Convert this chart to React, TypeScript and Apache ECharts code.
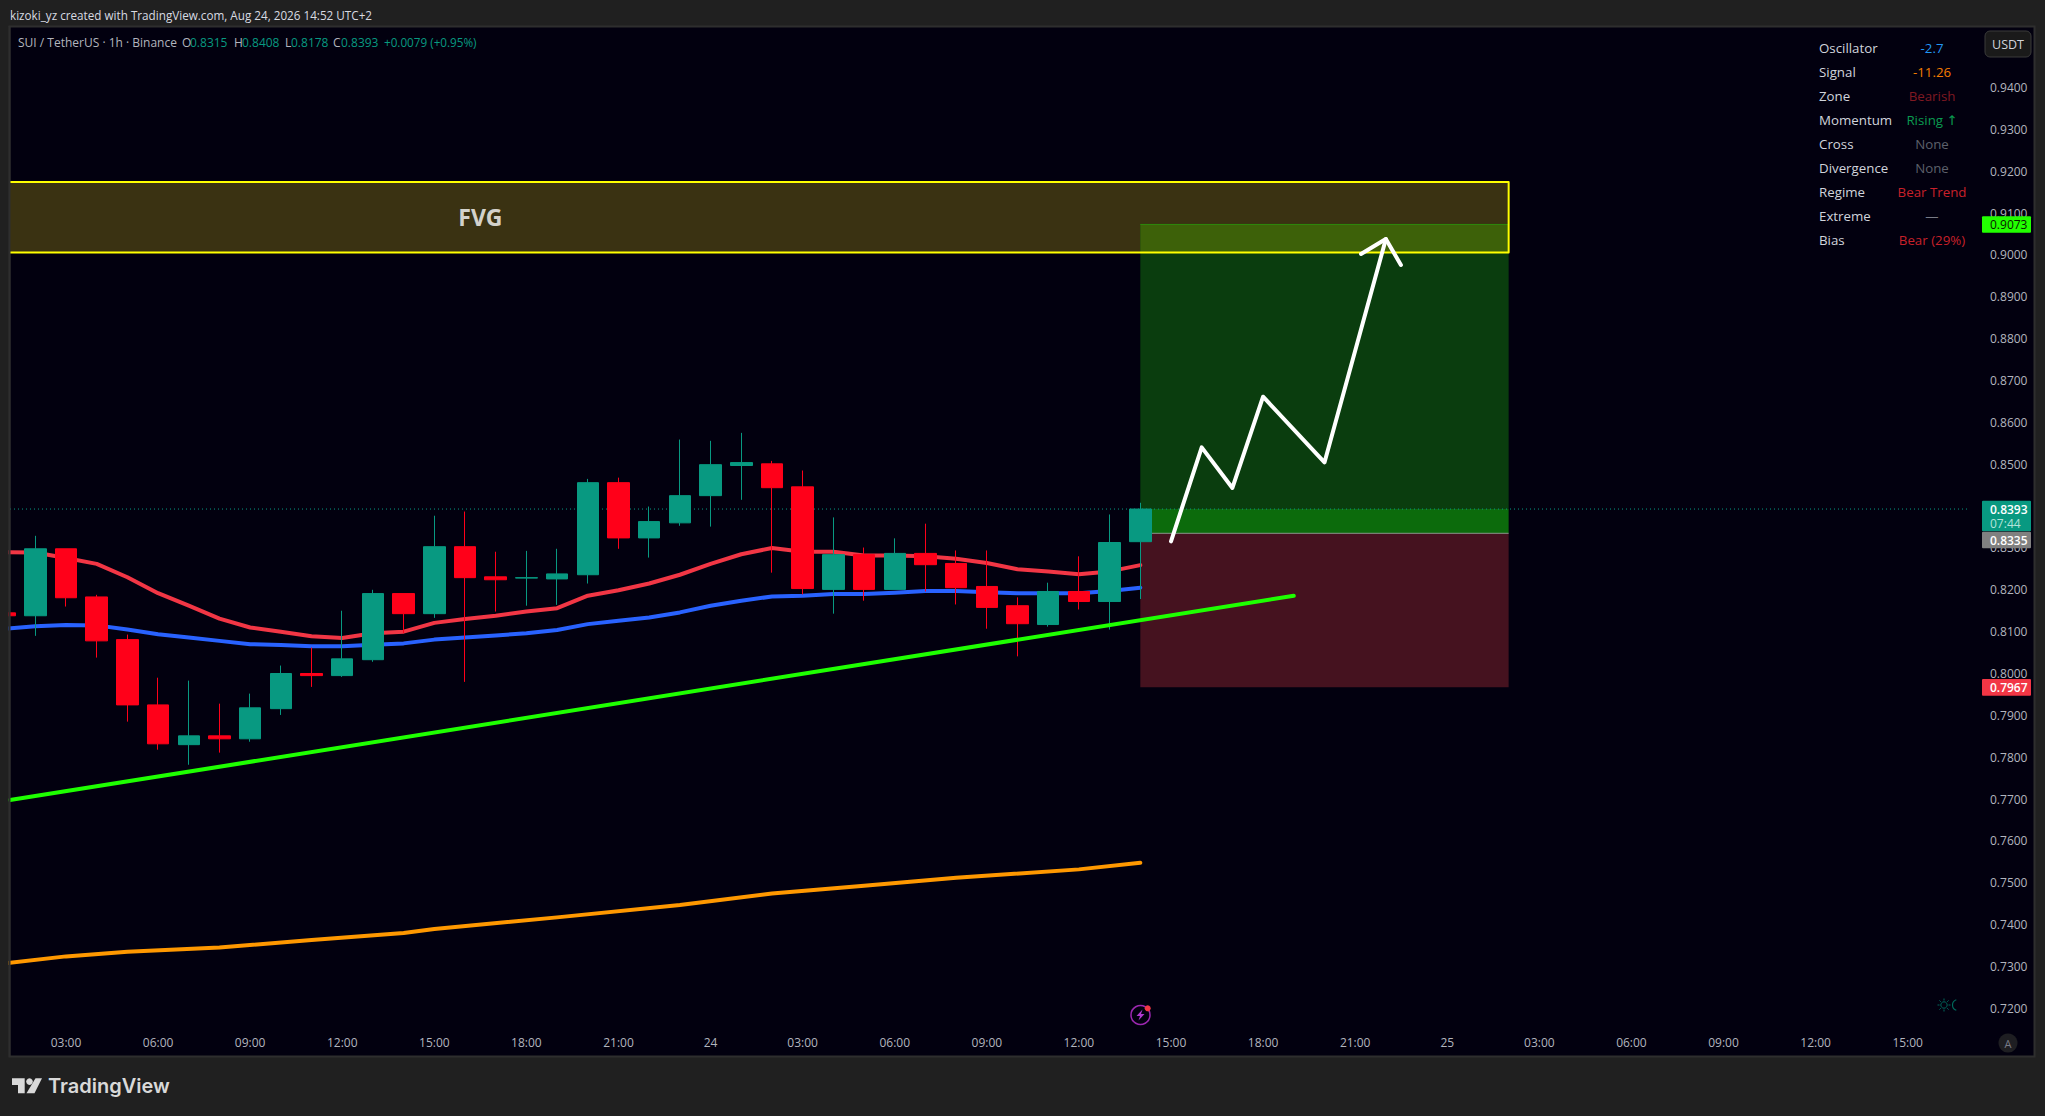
import React, { useEffect, useRef } from "react";
import * as echarts from "echarts";

const WIDTH = 2045;
const HEIGHT = 1116;

// Hours since 00:00 on the 23rd. Candle i sits at hour firstCandleHour + i.
const firstCandleHour = 1;
const opens = [0.8145,0.8138,0.8298,0.8183,0.8081,0.7925,0.7830,0.7851,0.7844,0.7916,0.8000,0.7995,0.8033,0.8191,0.8143,0.8303,0.8231,0.8228,0.8226,0.8236,0.8456,0.8324,0.8360,0.8425,0.8497,0.8501,0.8446,0.8201,0.8284,0.8201,0.8287,0.8263,0.8208,0.8162,0.8117,0.8196,0.8172,0.8315];
const closes = [0.8138,0.8298,0.8181,0.8078,0.7925,0.7832,0.7851,0.7844,0.7918,0.8000,0.7995,0.8035,0.8191,0.8143,0.8303,0.8229,0.8224,0.8229,0.8238,0.8456,0.8324,0.8363,0.8425,0.8499,0.8504,0.8444,0.8203,0.8284,0.8201,0.8287,0.8260,0.8205,0.8158,0.8119,0.8196,0.8172,0.8313,0.8393];
const lows = [0.8138,0.8090,0.8160,0.8038,0.7885,0.7818,0.7782,0.7811,0.7837,0.7901,0.7968,0.7992,0.8028,0.8097,0.8133,0.7980,0.8148,0.8162,0.8164,0.8215,0.8298,0.8277,0.8353,0.8351,0.8415,0.8241,0.8189,0.8143,0.8174,0.8201,0.8196,0.8165,0.8107,0.8041,0.8112,0.8153,0.8105,0.8178];
const highs = [0.8145,0.8329,0.8298,0.8188,0.8093,0.7990,0.7983,0.7928,0.7952,0.8019,0.8062,0.8150,0.8200,0.8191,0.8377,0.8387,0.8291,0.8293,0.8298,0.8465,0.8468,0.8399,0.8559,0.8556,0.8575,0.8508,0.8485,0.8373,0.8301,0.8323,0.8358,0.8294,0.8294,0.8182,0.8217,0.8280,0.8380,0.8408];
const redEma = [0.8290,0.8289,0.8276,0.8262,0.8230,0.8192,0.8162,0.8131,0.8110,0.8100,0.8089,0.8085,0.8096,0.8100,0.8121,0.8130,0.8138,0.8148,0.8156,0.8186,0.8199,0.8215,0.8236,0.8262,0.8285,0.8300,0.8291,0.8291,0.8282,0.8282,0.8280,0.8274,0.8264,0.8249,0.8244,0.8237,0.8244,0.8259];
const blueEma = [0.8107,0.8113,0.8116,0.8115,0.8105,0.8094,0.8086,0.8078,0.8070,0.8068,0.8065,0.8065,0.8069,0.8072,0.8081,0.8086,0.8091,0.8096,0.8104,0.8118,0.8126,0.8134,0.8146,0.8162,0.8174,0.8184,0.8186,0.8190,0.8190,0.8193,0.8197,0.8197,0.8194,0.8192,0.8192,0.8192,0.8197,0.8205];
const orangeHours = [1,3,5,8,11,14,15,19,23,26,29,32,36,38];
const orangeValues = [0.73074,0.73241,0.73353,0.73456,0.73631,0.73799,0.73894,0.74173,0.74468,0.74746,0.74930,0.75121,0.75320,0.75479];
const trendHours = [1.176,43];
const trendValues = [0.76977,0.81859];
const arrowHours = [39,40,41,42,44,46];
const arrowValues = [0.83157,0.85403,0.84433,0.86614,0.85044,0.90382];
const arrowHeadHours = [45.19,46,46.49];
const arrowHeadValues = [0.90024,0.90382,0.89761];

const xMin = 1.1758;
const xMax = 64.9;
const yMin = 0.71537;
const yMax = 0.95431;

const lastPrice = 0.8393;
const entryPrice = 0.8335;
const targetPrice = 0.9073;
const stopPrice = 0.7967;
const fvgTop = 0.91745;
const fvgBottom = 0.90058;
const boxStartHour = 38;
const boxEndHour = 50;
const fvgLabelHour = 16.5;
const fvgLabelPrice = 0.90915;

const priceTicks = [0.72,0.73,0.74,0.75,0.76,0.77,0.78,0.79,0.80,0.81,0.82,0.83,0.84,0.85,0.86,0.87,0.88,0.89,0.90,0.91,0.92,0.93,0.94];
const timeTicks = [3,6,9,12,15,18,21,24,27,30,33,36,39,42,45,48,51,54,57,60,63];
const timeTickLabels = ["03:00","06:00","09:00","12:00","15:00","18:00","21:00","24","03:00","06:00","09:00","12:00","15:00","18:00","21:00","25","03:00","06:00","09:00","12:00","15:00"];

const panelLabels = ["Oscillator","Signal","Zone","Momentum","Cross","Divergence","Regime","Extreme","Bias"];
const panelValues = ["-2.7","-11.26","Bearish","Rising ↑","None","None","Bear Trend","—","Bear (29%)"];
const panelColors = ["#2196f3","#f57c00","#801922","#0a9b50","#5d606b","#5d606b","#c8202a","#787b86","#c8202a"];

const FONT = '"Open Sans", "DejaVu Sans", sans-serif';
const GREEN = "#089981";
const RED = "#ff0019";

function area(x0: number, y0: number, x1: number, y1: number, color: string) {
  return [
    { xAxis: x0, yAxis: y0, itemStyle: { color, borderWidth: 0, opacity: 1 } },
    { xAxis: x1, yAxis: y1 },
  ];
}

function zoneSeries(data: any[], z: number) {
  return {
    type: "line",
    data: [],
    z,
    silent: true,
    markArea: { silent: true, z, label: { show: false }, emphasis: { disabled: true }, data },
  };
}

function lineSeries(data: number[][], color: string, width: number, z: number, type: any = "solid", cap = "round") {
  return {
    type: "line",
    data,
    z,
    silent: true,
    symbol: "none",
    smooth: false,
    lineStyle: { color, width, type, cap, join: "round" },
  };
}

function txt(text: string, x: number, y: number, fill: string, size = 12, extra: any = {}) {
  return {
    type: "text",
    z: 100,
    silent: true,
    x,
    y,
    style: {
      text,
      fill,
      font: `${extra.weight ?? "normal"} ${size}px ${extra.family ?? FONT}`,
      textAlign: extra.align ?? "left",
      textVerticalAlign: "middle",
    },
  };
}

function badge(x: number, y: number, h: number, color: string) {
  return { type: "rect", z: 90, silent: true, shape: { x, y, width: 49, height: h, r: 1 }, style: { fill: color } };
}

export default function App() {
  const ref = useRef<HTMLDivElement>(null);

  useEffect(() => {
    document.body.style.margin = "0";
    document.body.style.background = "#202020";
    document.body.style.overflow = "hidden";
    const chart = echarts.init(ref.current!, undefined, { renderer: "svg" });

    const hours = opens.map((_, i) => firstCandleHour + i);
    const candles = opens.map((o, i) => [hours[i], o, closes[i], lows[i], highs[i]]);
    const withHours = (vals: number[], hs: number[]) => vals.map((v, i) => [hs[i], v]);

    chart.setOption({
      animation: false,
      backgroundColor: "#202020",
      tooltip: { show: false },
      legend: { show: false },
      grid: { left: 10, right: WIDTH - 1966, top: 27.7, bottom: HEIGHT - 1027.7, containLabel: false },
      xAxis: {
        type: "value",
        min: xMin,
        max: xMax,
        splitLine: { show: false },
        axisLine: { show: false },
        axisTick: { show: false },
        axisLabel: {
          show: true,
          customValues: timeTicks,
          formatter: (v: number) => timeTickLabels[timeTicks.indexOf(Math.round(v))] ?? "",
          color: "#b2b5be",
          fontFamily: FONT,
          fontSize: 12,
          margin: 8.3,
        },
      },
      yAxis: {
        type: "value",
        position: "right",
        min: yMin,
        max: yMax,
        splitLine: { show: false },
        axisLine: { show: false },
        axisTick: { show: false },
        axisLabel: {
          show: true,
          customValues: priceTicks,
          formatter: (v: number) => v.toFixed(4),
          color: "#b2b5be",
          fontFamily: FONT,
          fontSize: 12,
          margin: 24,
          align: "left",
        },
      },
      series: [
        zoneSeries([area(xMin, fvgTop, boxEndHour, fvgBottom, "#3a3212")], 1),
        zoneSeries(
          [
            area(boxStartHour, targetPrice, boxEndHour, lastPrice, "#0a3d0e"),
            area(boxStartHour, lastPrice, boxEndHour, entryPrice, "#0c6b0c"),
            area(boxStartHour, entryPrice, boxEndHour, stopPrice, "#45121f"),
          ],
          1.1
        ),
        zoneSeries([area(boxStartHour, targetPrice, boxEndHour, fvgBottom, "#3d6109")], 1.2),
        lineSeries([[boxStartHour, targetPrice], [boxEndHour, targetPrice]], "#2e8a0c", 1, 1.3, "solid", "butt"),
        lineSeries([[boxStartHour, entryPrice], [boxEndHour, entryPrice]], "#8a9a8a", 1, 1.3, "solid", "butt"),
        lineSeries(
          [[xMin, fvgTop], [boxEndHour, fvgTop], [boxEndHour, fvgBottom], [xMin, fvgBottom]],
          "#ffff00",
          2,
          1.4,
          "solid",
          "butt"
        ),
        lineSeries([[xMin, lastPrice], [xMax + 0.42, lastPrice]], GREEN, 1, 1.5, [1, 3], "butt"),
        lineSeries(withHours(redEma, hours), "#f23645", 4, 2),
        lineSeries(withHours(blueEma, hours), "#2962ff", 4, 2.1),
        lineSeries(withHours(orangeValues, orangeHours), "#ff9800", 4, 2.2),
        {
          type: "candlestick",
          data: candles,
          z: 3,
          silent: true,
          barWidth: 22,
          clip: true,
          itemStyle: {
            color: GREEN,
            color0: RED,
            borderColor: GREEN,
            borderColor0: RED,
            borderColorDoji: GREEN,
            borderWidth: 1,
          },
        },
        lineSeries(withHours(trendValues, trendHours), "#1eff00", 4, 4),
        lineSeries(withHours(arrowValues, arrowHours), "#ffffff", 4, 5),
        lineSeries(withHours(arrowHeadValues, arrowHeadHours), "#ffffff", 4, 5),
        {
          type: "scatter",
          data: [[fvgLabelHour, fvgLabelPrice]],
          z: 6,
          silent: true,
          symbolSize: 0,
          label: {
            show: true,
            position: "inside",
            formatter: "FVG",
            color: "#ffffff",
            fontFamily: FONT,
            fontWeight: "bold",
            fontSize: 23,
          },
        },
      ],
    });

    const py = (p: number) => chart.convertToPixel({ yAxisIndex: 0 }, p) as number;
    const badgeX = 1982;
    const labelX = 1990;
    const lastTop = py(lastPrice) - 8.4;
    const entryTop = lastTop + 31;

    const panel: any[] = [];
    panelLabels.forEach((label, i) => {
      const y = 48.3 + i * 24;
      panel.push(txt(label, 1819, y, "#d1d4dc", 13.3));
      panel.push(txt(panelValues[i], 1932, y, panelColors[i], 13.3, { align: "center" }));
    });

    const sunRays: any[] = [];
    [0, 1, 2, 3, 4, 5, 6, 7].forEach((k) => {
      const a = (k * Math.PI) / 4;
      sunRays.push({
        type: "line",
        z: 95,
        silent: true,
        shape: {
          x1: 1944 + Math.cos(a) * 4.5,
          y1: 1005 + Math.sin(a) * 4.5,
          x2: 1944 + Math.cos(a) * 6.5,
          y2: 1005 + Math.sin(a) * 6.5,
        },
        style: { stroke: "#00695c", lineWidth: 1 },
      });
    });

    chart.setOption({
      graphic: {
        elements: [
          {
            type: "rect",
            z: -100,
            silent: true,
            shape: { x: 9.5, y: 26.5, width: 2025, height: 1030 },
            style: { fill: "#02000f", stroke: "#2e2e2e", lineWidth: 2 },
          },
          { type: "rect", z: 80, silent: true, shape: { x: 0, y: 27, width: 8.5, height: 1030 }, style: { fill: "#202020" } },
          { type: "rect", z: 80, silent: true, shape: { x: 8.5, y: 26, width: 2, height: 1031 }, style: { fill: "#2e2e2e" } },
          txt("kizoki_yz created with TradingView.com, Aug 24, 2026 14:52 UTC+2", 10, 14.5, "#d8dbe2", 11.7),
          txt("SUI / TetherUS · 1h · Binance", 18, 42, "#b2b5be", 12),
          txt("O", 182, 42, "#b2b5be", 12),
          txt("0.8315", 190, 42, GREEN, 12),
          txt("H", 234, 42, "#b2b5be", 12),
          txt("0.8408", 242, 42, GREEN, 12),
          txt("L", 285, 42, "#b2b5be", 12),
          txt("0.8178", 291, 42, GREEN, 12),
          txt("C", 333, 42, "#b2b5be", 12),
          txt("0.8393", 341, 42, GREEN, 12),
          txt("+0.0079 (+0.95%)", 384, 42, GREEN, 11.7),
          ...panel,
          {
            type: "rect",
            z: 90,
            silent: true,
            shape: { x: 1985, y: 31, width: 46, height: 26, r: 5 },
            style: { fill: "#1a1a1a", stroke: "#3a3a3a", lineWidth: 1 },
          },
          txt("USDT", 2008, 44.5, "#d1d4dc", 12.5, { align: "center" }),
          badge(badgeX, py(targetPrice) - 8.3, 16.7, "#22ff00"),
          txt(targetPrice.toFixed(4), labelX, py(targetPrice), "#0a1a00", 12),
          badge(badgeX, lastTop, 30.7, GREEN),
          txt(lastPrice.toFixed(4), labelX, lastTop + 9, "#ffffff", 12, { weight: 600 }),
          txt("07:44", labelX, lastTop + 22.4, "#b5e3da", 12),
          badge(badgeX, entryTop, 16.7, "#808080"),
          txt(entryPrice.toFixed(4), labelX, entryTop + 8.4, "#ffffff", 12, { weight: 600 }),
          badge(badgeX, py(stopPrice) - 8.3, 16.7, "#f23645"),
          txt(stopPrice.toFixed(4), labelX, py(stopPrice), "#ffffff", 12, { weight: 600 }),
          {
            type: "circle",
            z: 95,
            silent: true,
            shape: { cx: 2008, cy: 1043, r: 9.5 },
            style: { fill: "#1e1e22" },
          },
          txt("A", 2008, 1043.5, "#787b86", 11, { align: "center" }),
          {
            type: "circle",
            z: 95,
            silent: true,
            shape: { cx: 1140.5, cy: 1015, r: 9.5 },
            style: { fill: "none", stroke: "#9c27b0", lineWidth: 1.5 },
          },
          {
            type: "polygon",
            z: 96,
            silent: true,
            shape: { points: [[1142.5, 1009.5], [1136.5, 1016], [1140, 1016], [1138.5, 1020.5], [1144.5, 1014], [1141, 1014]] },
            style: { fill: "#b039d0" },
          },
          { type: "circle", z: 97, silent: true, shape: { cx: 1147.7, cy: 1008.3, r: 3 }, style: { fill: "#f23645" } },
          { type: "circle", z: 95, silent: true, shape: { cx: 1944, cy: 1005, r: 3.2 }, style: { fill: "none", stroke: "#00695c", lineWidth: 1 } },
          ...sunRays,
          {
            type: "arc",
            z: 95,
            silent: true,
            shape: { cx: 1958, cy: 1005, r: 5.5, startAngle: Math.PI * 0.6, endAngle: Math.PI * 1.4, clockwise: true },
            style: { fill: "none", stroke: "#00695c", lineWidth: 1.2 },
          },
          {
            type: "polygon",
            z: 100,
            silent: true,
            shape: { points: [[12, 1078.3], [24.7, 1078.3], [24.7, 1093.3], [18, 1093.3], [18, 1085], [12, 1085]] },
            style: { fill: "#d9d9d9" },
          },
          { type: "circle", z: 100, silent: true, shape: { cx: 29.5, cy: 1081.6, r: 3.3 }, style: { fill: "#d9d9d9" } },
          {
            type: "polygon",
            z: 100,
            silent: true,
            shape: { points: [[35.5, 1078.3], [42, 1078.3], [34.5, 1093.3], [26.5, 1093.3]] },
            style: { fill: "#d9d9d9" },
          },
          txt("TradingView", 48, 1086, "#d9d9d9", 20, { weight: 600, family: "Inter, sans-serif" }),
        ],
      },
    });

    return () => chart.dispose();
  }, []);

  return <div ref={ref} style={{ position: "absolute", left: 0, top: 0, width: WIDTH, height: HEIGHT }} />;
}
